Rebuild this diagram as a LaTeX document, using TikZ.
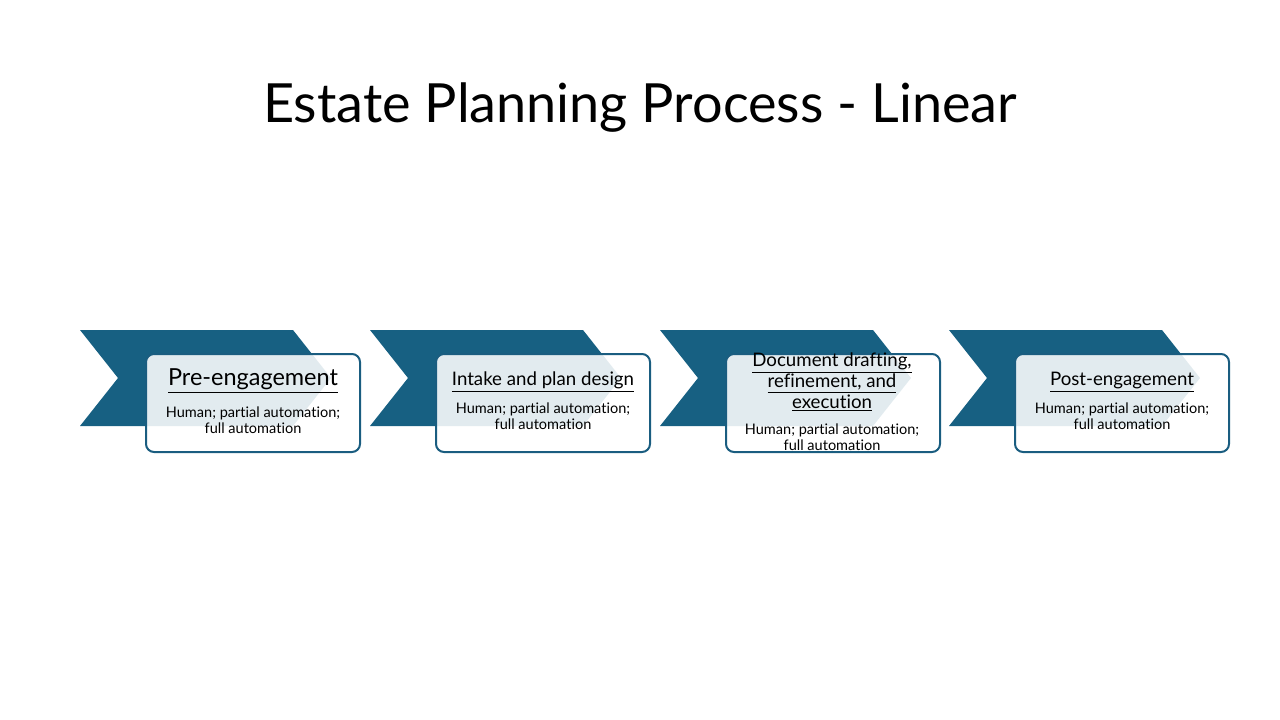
\documentclass[tikz,border=0pt]{standalone}
\usepackage{fontspec}
\setmainfont{Lato}[Ligatures=NoCommon]
\usepackage{xcolor}
\definecolor{chevblue}{RGB}{23,96,130}
\definecolor{edgeblue}{RGB}{26,93,128}

\begin{document}
\begin{tikzpicture}[x=0.75pt,y=-0.75pt,
    stepcard/.style={draw=edgeblue,line width=1.5pt,rounded corners=6pt,
        fill=white,fill opacity=0.88,text opacity=1,
        minimum width=160.5pt,minimum height=73.5pt,inner sep=0pt},
    stephead/.style={align=center,inner sep=0pt,font=\fontsize{14}{15.4}\selectfont},
    stepsub/.style={align=center,inner sep=0pt,font=\fontsize{10.9}{12}\selectfont}]
\useasboundingbox (0,0) rectangle (1280,720);

\node[inner sep=0pt,font=\fontsize{40.5}{44}\selectfont] (title) at (640,108) {Estate Planning Process - Linear};

% chevrons and cards
\foreach \i/\dx in {1/0,2/290,3/580,4/869}{
    \fill[chevblue] (80+\dx,330) -- (293+\dx,330) -- (331+\dx,378) -- (293+\dx,426)
        -- (80+\dx,426) -- (118+\dx,378) -- cycle;
    \node[stepcard] (box\i) at (253+\dx,403) {};
}

\node[stephead,font=\fontsize{17.6}{20}\selectfont] (head1) at (253,381) {\underline{Pre-engagement}};
\node[stepsub] (sub1) at (253,420) {Human; partial automation;\\full automation};

\node[stephead] (head2) at (543,382) {\underline{Intake and plan design}};
\node[stepsub] (sub2) at (543,416) {Human; partial automation;\\full automation};

\node[stephead] (head3) at (832,382) {\underline{Document drafting,}\\\underline{refinement, and}\\\underline{execution}};
\node[stepsub] (sub3) at (832,437) {Human; partial automation;\\full automation};

\node[stephead] (head4) at (1122,382) {\underline{Post-engagement}};
\node[stepsub] (sub4) at (1122,416) {Human; partial automation;\\full automation};

\end{tikzpicture}
\end{document}
